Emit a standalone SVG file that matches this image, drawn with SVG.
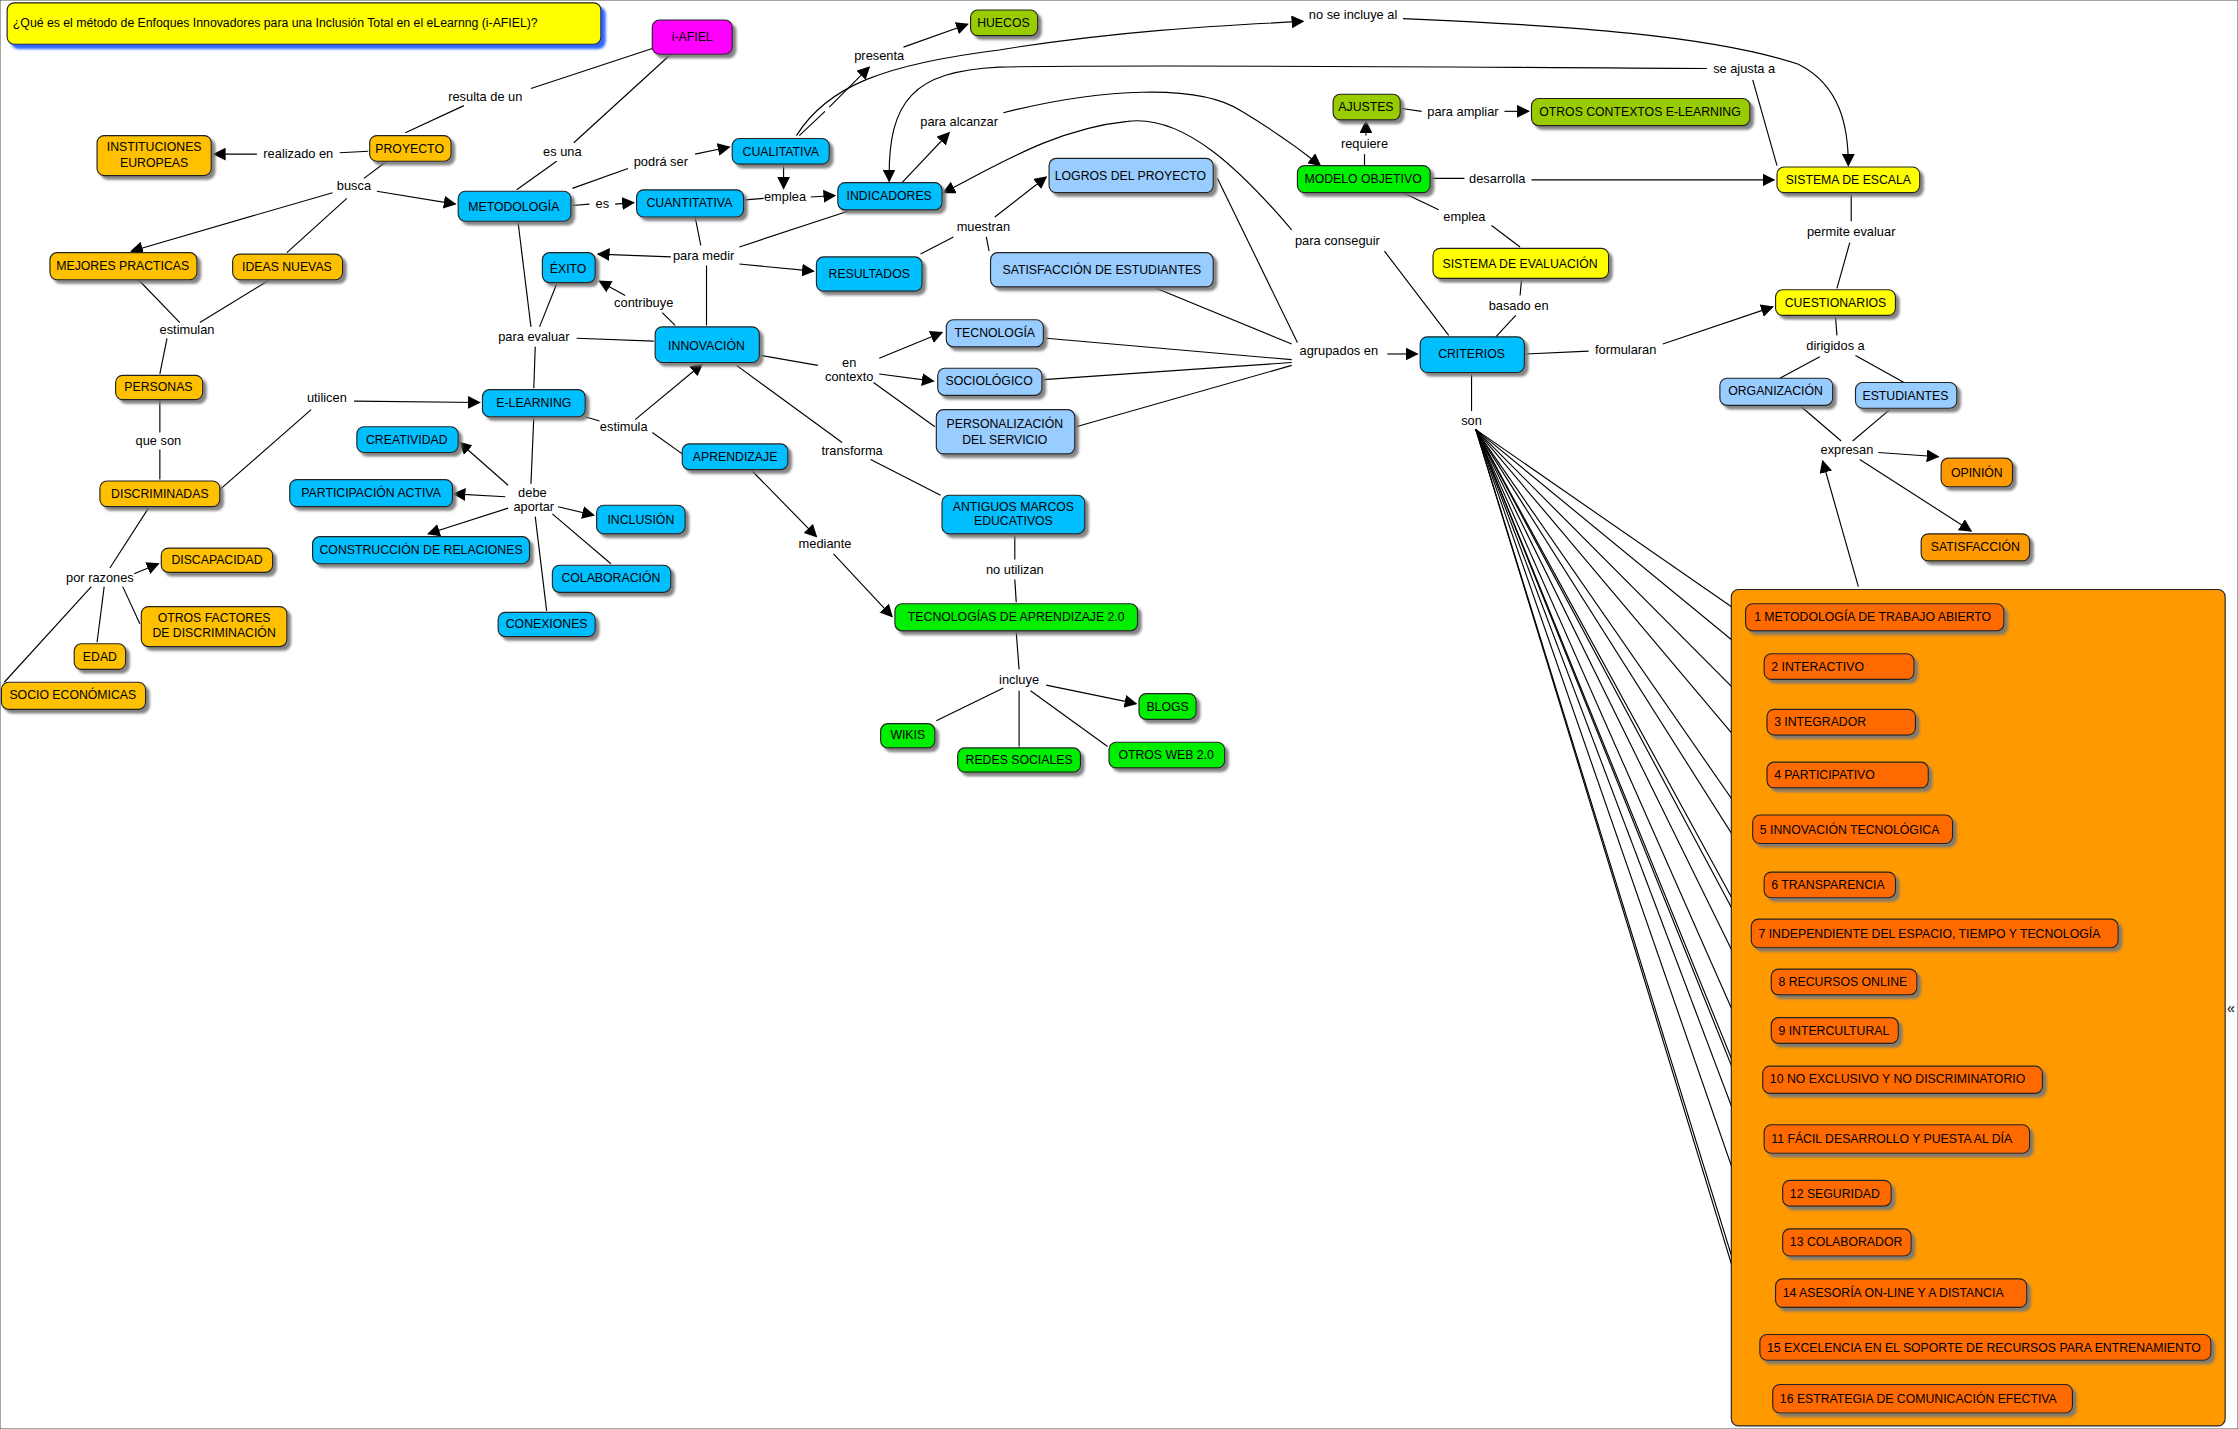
<svg xmlns="http://www.w3.org/2000/svg" width="2238" height="1429" viewBox="0 0 2238 1429">
<defs>
<filter id="sh" x="-10%" y="-20%" width="130%" height="160%"><feDropShadow dx="2.5" dy="2.5" stdDeviation="0.6" flood-color="#777" flood-opacity="0.9"/></filter>
<filter id="shb" x="-5%" y="-20%" width="110%" height="160%"><feDropShadow dx="3" dy="3" stdDeviation="0.6" flood-color="#3366FF" flood-opacity="1"/></filter>
<marker id="ar" viewBox="0 0 10 10" refX="9" refY="5" markerWidth="9" markerHeight="9" markerUnits="userSpaceOnUse" orient="auto"><path d="M0,0 L10,5 L0,10 z" fill="#000"/></marker>
<style>
rect{stroke:#222;stroke-width:0.8}
.or{fill:#FFC000}.cy{fill:#00BFFF}.lb{fill:#99CCFF}.gr{fill:#00EE00}.ol{fill:#99CC00}.ye{fill:#FFFF00}.og{fill:#FF9900}.rd{fill:#FF6A00}.mg{fill:#FF00FF}
text{font-family:"Liberation Sans",Arial,sans-serif;font-size:8.6px;fill:#000;text-anchor:middle}
.lk{font-size:9px}
.c path,.c line{stroke:#000;stroke-width:0.8;fill:none}
.a{marker-end:url(#ar)}
</style>
</defs>
<rect width="2238" height="1429" fill="#fff" stroke="none"/>
<g transform="scale(1.4273)">
<g class="c" id="connectors">
<line x1="457" y1="34" x2="372" y2="62"/><line x1="325" y1="74" x2="284" y2="93"/>
<line x1="470" y1="38" x2="402" y2="100"/><line x1="390" y1="113" x2="362" y2="133"/>
<line x1="258" y1="106" x2="238" y2="107"/><line class="a" x1="180" y1="108" x2="150" y2="108"/>
<line x1="271" y1="113" x2="255" y2="125"/><line class="a" x1="264" y1="134" x2="319" y2="143"/><line class="a" x1="233" y1="135" x2="92" y2="176"/><line x1="243" y1="139" x2="201" y2="177"/>
<line x1="97" y1="196" x2="126" y2="226"/><line x1="189" y1="196" x2="140" y2="226"/><line x1="117" y1="237" x2="112" y2="262"/>
<line x1="112" y1="280" x2="112" y2="303"/><line x1="112" y1="315" x2="112" y2="336"/>
<line x1="154" y1="343" x2="218" y2="287"/><line class="a" x1="248" y1="281" x2="336" y2="282"/>
<line x1="104" y1="356" x2="77" y2="398"/><line class="a" x1="94" y1="402" x2="111" y2="395"/><line x1="86" y1="411" x2="98" y2="437"/><line x1="73" y1="411" x2="68" y2="450"/><line x1="64" y1="411" x2="3" y2="478"/>
<line x1="401" y1="144" x2="413" y2="143"/><line class="a" x1="431" y1="143" x2="444" y2="142"/>
<line x1="401" y1="132" x2="440" y2="118"/><line class="a" x1="487" y1="108" x2="511" y2="103"/>
<line x1="363" y1="156" x2="372" y2="229"/><line x1="390" y1="199" x2="378" y2="229"/><line x1="458" y1="239" x2="404" y2="237"/><line x1="374" y1="272" x2="375" y2="243"/>
<line x1="522" y1="140" x2="535" y2="139"/><line class="a" x1="568" y1="138" x2="585" y2="137"/><line class="a" x1="549" y1="116" x2="549" y2="132"/>
<line x1="487" y1="152" x2="491" y2="172"/><line class="a" x1="470" y1="180" x2="419" y2="178"/><line class="a" x1="518" y1="185" x2="570" y2="190"/><line x1="594" y1="148" x2="518" y2="173"/><line x1="495" y1="186" x2="495" y2="228"/>
<line x1="473" y1="228" x2="464" y2="219"/><line class="a" x1="438" y1="207" x2="420" y2="197"/>
<line x1="560" y1="95" x2="578" y2="78"/><line class="a" x1="581" y1="75" x2="609" y2="47"/><line class="a" x1="633" y1="33" x2="678" y2="17"/>
<line class="a" x1="632" y1="128" x2="665" y2="93"/><path class="a" d="M703,79 C770,62 840,58 870,78 C890,90 910,104 925,116"/>
<line x1="645" y1="178" x2="668" y2="166"/><line class="a" x1="697" y1="152" x2="733" y2="124"/><line x1="691" y1="166" x2="693" y2="176"/>
<line x1="853" y1="125" x2="909" y2="240"/><line x1="810" y1="202" x2="905" y2="241"/><line x1="733" y1="237" x2="905" y2="252"/><line x1="731" y1="266" x2="905" y2="254"/><line x1="754" y1="299" x2="905" y2="256"/><line class="a" x1="972" y1="248" x2="993" y2="248"/>
<line x1="1015" y1="235" x2="970" y2="176"/><path class="a" d="M905,161 C870,120 830,80 790,85 C740,90 700,115 661,135"/>
<line x1="533" y1="249" x2="573" y2="256"/><line class="a" x1="616" y1="251" x2="660" y2="233"/><line class="a" x1="616" y1="262" x2="654" y2="267"/><line x1="612" y1="268" x2="655" y2="299"/>
<line x1="516" y1="256" x2="590" y2="310"/><line x1="610" y1="322" x2="659" y2="347"/>
<line x1="410" y1="292" x2="420" y2="295"/><line class="a" x1="445" y1="294" x2="492" y2="255"/><line x1="457" y1="303" x2="478" y2="318"/>
<line x1="374" y1="292" x2="372" y2="339"/><line class="a" x1="356" y1="340" x2="322" y2="310"/><line class="a" x1="354" y1="348" x2="318" y2="346"/><line class="a" x1="356" y1="356" x2="300" y2="374"/><line class="a" x1="391" y1="355" x2="416" y2="361"/><line x1="387" y1="360" x2="428" y2="395"/><line x1="375" y1="362" x2="383" y2="428"/>
<line class="a" x1="527" y1="330" x2="572" y2="376"/><line class="a" x1="584" y1="388" x2="625" y2="432"/>
<line x1="711" y1="375" x2="711" y2="392"/><line x1="711" y1="406" x2="712" y2="422"/>
<line x1="712" y1="443" x2="714" y2="469"/><line class="a" x1="733" y1="480" x2="796" y2="493"/><line x1="703" y1="482" x2="656" y2="505"/><line x1="714" y1="484" x2="714" y2="523"/><line x1="722" y1="484" x2="776" y2="523"/>
<line x1="956" y1="116" x2="956" y2="108"/><line class="a" x1="957" y1="95" x2="957" y2="85"/>
<line x1="982" y1="76" x2="996" y2="78"/><line class="a" x1="1054" y1="78" x2="1071" y2="78"/>
<line x1="1003" y1="125" x2="1026" y2="125"/><line class="a" x1="1073" y1="126" x2="1243" y2="126"/>
<line x1="983" y1="135" x2="1008" y2="147"/><line x1="1045" y1="158" x2="1065" y2="173"/>
<line x1="1066" y1="196" x2="1065" y2="207"/><line x1="1062" y1="221" x2="1048" y2="236"/>
<path class="a" d="M558,95 C580,60 620,45 700,35 C780,22 850,18 913,15"/><path class="a" d="M983,13 C1100,18 1200,25 1260,45 C1290,60 1295,90 1295,116"/>
<line x1="1245" y1="116" x2="1228" y2="56"/><path class="a" d="M1196,48 C1000,47 800,45 700,47 C640,50 622,70 623,127"/>
<line x1="1297" y1="136" x2="1297" y2="155"/><line x1="1296" y1="170" x2="1287" y2="202"/>
<line x1="1069" y1="248" x2="1113" y2="246"/><line class="a" x1="1165" y1="241" x2="1242" y2="215"/>
<line x1="1286" y1="222" x2="1287" y2="235"/><line x1="1275" y1="250" x2="1247" y2="265"/><line x1="1300" y1="249" x2="1334" y2="268"/>
<line x1="1262" y1="285" x2="1290" y2="309"/><line x1="1324" y1="287" x2="1298" y2="309"/><line class="a" x1="1316" y1="317" x2="1358" y2="320"/><line class="a" x1="1303" y1="322" x2="1381" y2="372"/><line class="a" x1="1302" y1="411" x2="1277" y2="323"/>
<line x1="1031" y1="262" x2="1031" y2="288"/>
<g>
<line x1="1034" y1="301" x2="1223" y2="432"/><line x1="1034" y1="301" x2="1236" y2="467"/><line x1="1034" y1="301" x2="1238" y2="506"/><line x1="1034" y1="301" x2="1238" y2="543"/><line x1="1034" y1="301" x2="1228" y2="581"/><line x1="1034" y1="301" x2="1236" y2="620"/><line x1="1034" y1="301" x2="1227" y2="654"/><line x1="1034" y1="301" x2="1241" y2="688"/><line x1="1034" y1="301" x2="1241" y2="722"/><line x1="1034" y1="301" x2="1235" y2="756"/><line x1="1034" y1="301" x2="1236" y2="798"/><line x1="1034" y1="301" x2="1249" y2="836"/><line x1="1034" y1="301" x2="1249" y2="870"/><line x1="1034" y1="301" x2="1244" y2="906"/><line x1="1034" y1="301" x2="1233" y2="944"/><line x1="1034" y1="301" x2="1242" y2="980"/>
</g>
</g>
<g id="links">
<text class="lk" x="340" y="71">resulta de un</text><text class="lk" x="394" y="109">es una</text><text class="lk" x="209" y="111">realizado en</text><text class="lk" x="248" y="133">busca</text>
<text class="lk" x="131" y="234">estimulan</text><text class="lk" x="111" y="312">que son</text><text class="lk" x="229" y="282">utilicen</text><text class="lk" x="70" y="408">por razones</text>
<text class="lk" x="422" y="146">es</text><text class="lk" x="463" y="116">podrá ser</text><text class="lk" x="374" y="239">para evaluar</text><text class="lk" x="550" y="141">emplea</text>
<text class="lk" x="493" y="182">para medir</text><text class="lk" x="451" y="215">contribuye</text><text class="lk" x="616" y="42">presenta</text><text class="lk" x="672" y="88">para alcanzar</text>
<text class="lk" x="689" y="162">muestran</text><text class="lk" x="938" y="249">agrupados en</text><text class="lk" x="937" y="172">para conseguir</text>
<text class="lk" x="595" y="257">en</text><text class="lk" x="595" y="267">contexto</text><text class="lk" x="597" y="319">transforma</text><text class="lk" x="437" y="302">estimula</text>
<text class="lk" x="373" y="348">debe</text><text class="lk" x="374" y="358">aportar</text><text class="lk" x="578" y="384">mediante</text><text class="lk" x="711" y="402">no utilizan</text><text class="lk" x="714" y="479">incluye</text>
<text class="lk" x="956" y="104">requiere</text><text class="lk" x="1025" y="81">para ampliar</text><text class="lk" x="1049" y="128">desarrolla</text><text class="lk" x="1026" y="155">emplea</text><text class="lk" x="1064" y="217">basado en</text>
<text class="lk" x="948" y="13">no se incluye al</text><text class="lk" x="1222" y="51">se ajusta a</text><text class="lk" x="1297" y="165">permite evaluar</text><text class="lk" x="1139" y="248">formularan</text>
<text class="lk" x="1286" y="245">dirigidos a</text><text class="lk" x="1294" y="318">expresan</text><text class="lk" x="1031" y="298">son</text>
</g>
<g id="title"><rect class="ye" x="5" y="2" width="416" height="29" rx="5" filter="url(#shb)"/><text x="9" y="19" style="text-anchor:start">¿Qué es el método de Enfoques Innovadores para una Inclusión Total en el eLearnng (i-AFIEL)?</text></g>
<g id="n-iafiel"><rect class="mg" x="457" y="14" width="56" height="24" rx="5" filter="url(#sh)"/><text x="485" y="29">i-AFIEL</text></g>
<g id="n-proyecto"><rect class="or" x="259" y="95" width="57" height="18" rx="5" filter="url(#sh)"/><text x="287" y="107">PROYECTO</text></g>
<g id="n-instituciones"><rect class="or" x="68" y="95" width="80" height="28" rx="5" filter="url(#sh)"/><text x="108" y="106">INSTITUCIONES</text><text x="108" y="117">EUROPEAS</text></g>
<g id="n-metodologia"><rect class="cy" x="321" y="134" width="79" height="21" rx="5" filter="url(#sh)"/><text x="360" y="148">METODOLOGÍA</text></g>
<g id="n-cuantitativa"><rect class="cy" x="446" y="133" width="75" height="19" rx="5" filter="url(#sh)"/><text x="483" y="145">CUANTITATIVA</text></g>
<g id="n-cualitativa"><rect class="cy" x="513" y="97" width="68" height="18" rx="5" filter="url(#sh)"/><text x="547" y="109">CUALITATIVA</text></g>
<g id="n-indicadores"><rect class="cy" x="587" y="128" width="73" height="19" rx="5" filter="url(#sh)"/><text x="623" y="140">INDICADORES</text></g>
<g id="n-mejores"><rect class="or" x="35" y="177" width="103" height="19" rx="5" filter="url(#sh)"/><text x="86" y="189">MEJORES PRACTICAS</text></g>
<g id="n-ideas"><rect class="or" x="163" y="178" width="77" height="18" rx="5" filter="url(#sh)"/><text x="201" y="190">IDEAS NUEVAS</text></g>
<g id="n-personas"><rect class="or" x="81" y="263" width="61" height="17" rx="5" filter="url(#sh)"/><text x="111" y="274">PERSONAS</text></g>
<g id="n-discriminadas"><rect class="or" x="70" y="337" width="84" height="18" rx="5" filter="url(#sh)"/><text x="112" y="349">DISCRIMINADAS</text></g>
<g id="n-discapacidad"><rect class="or" x="113" y="384" width="78" height="17" rx="5" filter="url(#sh)"/><text x="152" y="395">DISCAPACIDAD</text></g>
<g id="n-otrosfactores"><rect class="or" x="99" y="425" width="102" height="28" rx="5" filter="url(#sh)"/><text x="150" y="436">OTROS FACTORES</text><text x="150" y="446">DE DISCRIMINACIÓN</text></g>
<g id="n-edad"><rect class="or" x="52" y="451" width="36" height="18" rx="5" filter="url(#sh)"/><text x="70" y="463">EDAD</text></g>
<g id="n-socio"><rect class="or" x="1" y="478" width="101" height="19" rx="5" filter="url(#sh)"/><text x="51" y="490">SOCIO ECONÓMICAS</text></g>
<g id="n-exito"><rect class="cy" x="380" y="177" width="37" height="21" rx="5" filter="url(#sh)"/><text x="398" y="191">ÉXITO</text></g>
<g id="n-resultados"><rect class="cy" x="572" y="180" width="74" height="24" rx="5" filter="url(#sh)"/><text x="609" y="195">RESULTADOS</text></g>
<g id="n-innovacion"><rect class="cy" x="459" y="229" width="73" height="25" rx="5" filter="url(#sh)"/><text x="495" y="245">INNOVACIÓN</text></g>
<g id="n-elearning"><rect class="cy" x="338" y="273" width="72" height="19" rx="5" filter="url(#sh)"/><text x="374" y="285">E-LEARNING</text></g>
<g id="n-creatividad"><rect class="cy" x="250" y="299" width="71" height="18" rx="5" filter="url(#sh)"/><text x="285" y="311">CREATIVIDAD</text></g>
<g id="n-participacion"><rect class="cy" x="203" y="336" width="114" height="19" rx="5" filter="url(#sh)"/><text x="260" y="348">PARTICIPACIÓN ACTIVA</text></g>
<g id="n-inclusion"><rect class="cy" x="418" y="354" width="62" height="20" rx="5" filter="url(#sh)"/><text x="449" y="367">INCLUSIÓN</text></g>
<g id="n-construccion"><rect class="cy" x="219" y="376" width="152" height="19" rx="5" filter="url(#sh)"/><text x="295" y="388">CONSTRUCCIÓN DE RELACIONES</text></g>
<g id="n-colaboracion"><rect class="cy" x="387" y="396" width="83" height="19" rx="5" filter="url(#sh)"/><text x="428" y="408">COLABORACIÓN</text></g>
<g id="n-conexiones"><rect class="cy" x="349" y="429" width="68" height="17" rx="5" filter="url(#sh)"/><text x="383" y="440">CONEXIONES</text></g>
<g id="n-aprendizaje"><rect class="cy" x="478" y="311" width="74" height="18" rx="5" filter="url(#sh)"/><text x="515" y="323">APRENDIZAJE</text></g>
<g id="n-logros"><rect class="lb" x="735" y="111" width="115" height="24" rx="5" filter="url(#sh)"/><text x="792" y="126">LOGROS DEL PROYECTO</text></g>
<g id="n-satisfaccionest"><rect class="lb" x="694" y="177" width="156" height="24" rx="5" filter="url(#sh)"/><text x="772" y="192">SATISFACCIÓN DE ESTUDIANTES</text></g>
<g id="n-tecnologia"><rect class="lb" x="663" y="224" width="68" height="19" rx="5" filter="url(#sh)"/><text x="697" y="236">TECNOLOGÍA</text></g>
<g id="n-sociologico"><rect class="lb" x="657" y="258" width="73" height="19" rx="5" filter="url(#sh)"/><text x="693" y="270">SOCIOLÓGICO</text></g>
<g id="n-personalizacion"><rect class="lb" x="656" y="287" width="97" height="31" rx="5" filter="url(#sh)"/><text x="704" y="300">PERSONALIZACIÓN</text><text x="704" y="311">DEL SERVICIO</text></g>
<g id="n-antiguos"><rect class="cy" x="660" y="347" width="100" height="27" rx="5" filter="url(#sh)"/><text x="710" y="358">ANTIGUOS MARCOS</text><text x="710" y="368">EDUCATIVOS</text></g>
<g id="n-tec20"><rect class="gr" x="627" y="423" width="170" height="19" rx="5" filter="url(#sh)"/><text x="712" y="435">TECNOLOGÍAS DE APRENDIZAJE 2.0</text></g>
<g id="n-blogs"><rect class="gr" x="798" y="486" width="40" height="18" rx="5" filter="url(#sh)"/><text x="818" y="498">BLOGS</text></g>
<g id="n-wikis"><rect class="gr" x="617" y="507" width="38" height="17" rx="5" filter="url(#sh)"/><text x="636" y="518">WIKIS</text></g>
<g id="n-redes"><rect class="gr" x="671" y="524" width="86" height="17" rx="5" filter="url(#sh)"/><text x="714" y="535">REDES SOCIALES</text></g>
<g id="n-otrosweb"><rect class="gr" x="777" y="520" width="81" height="18" rx="5" filter="url(#sh)"/><text x="817" y="532">OTROS WEB 2.0</text></g>
<g id="n-huecos"><rect class="ol" x="680" y="7" width="47" height="18" rx="5" filter="url(#sh)"/><text x="703" y="19">HUECOS</text></g>
<g id="n-ajustes"><rect class="ol" x="934" y="66" width="47" height="18" rx="5" filter="url(#sh)"/><text x="957" y="78">AJUSTES</text></g>
<g id="n-otroscontextos"><rect class="ol" x="1073" y="69" width="153" height="19" rx="5" filter="url(#sh)"/><text x="1149" y="81">OTROS CONTEXTOS E-LEARNING</text></g>
<g id="n-modelo"><rect class="gr" x="909" y="116" width="93" height="19" rx="5" filter="url(#sh)"/><text x="955" y="128">MODELO OBJETIVO</text></g>
<g id="n-escala"><rect class="ye" x="1245" y="117" width="100" height="18" rx="5" filter="url(#sh)"/><text x="1295" y="129">SISTEMA DE ESCALA</text></g>
<g id="n-evaluacion"><rect class="ye" x="1004" y="174" width="123" height="21" rx="5" filter="url(#sh)"/><text x="1065" y="188">SISTEMA DE EVALUACIÓN</text></g>
<g id="n-criterios"><rect class="cy" x="995" y="236" width="73" height="25" rx="5" filter="url(#sh)"/><text x="1031" y="251">CRITERIOS</text></g>
<g id="n-cuestionarios"><rect class="ye" x="1244" y="203" width="84" height="18" rx="5" filter="url(#sh)"/><text x="1286" y="215">CUESTIONARIOS</text></g>
<g id="n-organizacion"><rect class="lb" x="1205" y="265" width="79" height="19" rx="5" filter="url(#sh)"/><text x="1244" y="277">ORGANIZACIÓN</text></g>
<g id="n-estudiantes"><rect class="lb" x="1300" y="268" width="71" height="18" rx="5" filter="url(#sh)"/><text x="1335" y="280">ESTUDIANTES</text></g>
<g id="n-opinion"><rect class="og" x="1360" y="321" width="50" height="20" rx="5" filter="url(#sh)"/><text x="1385" y="334">OPINIÓN</text></g>
<g id="n-satisfaccion"><rect class="og" x="1346" y="374" width="76" height="19" rx="5" filter="url(#sh)"/><text x="1384" y="386">SATISFACCIÓN</text></g>
<g id="n-container"><rect class="og" x="1213" y="413" width="346" height="586" rx="5"/><text x="1563" y="710" style="font-size:10px">«</text></g>
<g id="n-c1"><rect class="rd" x="1223" y="423" width="181" height="19" rx="5" filter="url(#sh)"/><text x="1229" y="435" style="text-anchor:start">1 METODOLOGÍA DE TRABAJO ABIERTO</text></g>
<g id="n-c2"><rect class="rd" x="1236" y="458" width="105" height="18" rx="5" filter="url(#sh)"/><text x="1241" y="470" style="text-anchor:start">2 INTERACTIVO</text></g>
<g id="n-c3"><rect class="rd" x="1238" y="497" width="104" height="18" rx="5" filter="url(#sh)"/><text x="1243" y="509" style="text-anchor:start">3 INTEGRADOR</text></g>
<g id="n-c4"><rect class="rd" x="1238" y="534" width="113" height="18" rx="5" filter="url(#sh)"/><text x="1243" y="546" style="text-anchor:start">4 PARTICIPATIVO</text></g>
<g id="n-c5"><rect class="rd" x="1228" y="571" width="140" height="20" rx="5" filter="url(#sh)"/><text x="1233" y="584" style="text-anchor:start">5 INNOVACIÓN TECNOLÓGICA</text></g>
<g id="n-c6"><rect class="rd" x="1236" y="611" width="92" height="18" rx="5" filter="url(#sh)"/><text x="1241" y="623" style="text-anchor:start">6 TRANSPARENCIA</text></g>
<g id="n-c7"><rect class="rd" x="1227" y="644" width="257" height="20" rx="5" filter="url(#sh)"/><text x="1232" y="657" style="text-anchor:start">7 INDEPENDIENTE DEL ESPACIO, TIEMPO Y TECNOLOGÍA</text></g>
<g id="n-c8"><rect class="rd" x="1241" y="679" width="102" height="18" rx="5" filter="url(#sh)"/><text x="1246" y="691" style="text-anchor:start">8 RECURSOS ONLINE</text></g>
<g id="n-c9"><rect class="rd" x="1241" y="713" width="89" height="18" rx="5" filter="url(#sh)"/><text x="1246" y="725" style="text-anchor:start">9 INTERCULTURAL</text></g>
<g id="n-c10"><rect class="rd" x="1235" y="747" width="196" height="19" rx="5" filter="url(#sh)"/><text x="1240" y="759" style="text-anchor:start">10 NO EXCLUSIVO Y NO DISCRIMINATORIO</text></g>
<g id="n-c11"><rect class="rd" x="1236" y="788" width="186" height="20" rx="5" filter="url(#sh)"/><text x="1241" y="801" style="text-anchor:start">11 FÁCIL DESARROLLO Y PUESTA AL DÍA</text></g>
<g id="n-c12"><rect class="rd" x="1249" y="827" width="76" height="18" rx="5" filter="url(#sh)"/><text x="1254" y="839" style="text-anchor:start">12 SEGURIDAD</text></g>
<g id="n-c13"><rect class="rd" x="1249" y="861" width="90" height="19" rx="5" filter="url(#sh)"/><text x="1254" y="873" style="text-anchor:start">13 COLABORADOR</text></g>
<g id="n-c14"><rect class="rd" x="1244" y="896" width="176" height="20" rx="5" filter="url(#sh)"/><text x="1249" y="909" style="text-anchor:start">14 ASESORÍA ON-LINE Y A DISTANCIA</text></g>
<g id="n-c15"><rect class="rd" x="1233" y="935" width="316" height="18" rx="5" filter="url(#sh)"/><text x="1238" y="947" style="text-anchor:start">15 EXCELENCIA EN EL SOPORTE DE RECURSOS PARA ENTRENAMIENTO</text></g>
<g id="n-c16"><rect class="rd" x="1242" y="970" width="210" height="20" rx="5" filter="url(#sh)"/><text x="1247" y="983" style="text-anchor:start">16 ESTRATEGIA DE COMUNICACIÓN EFECTIVA</text></g>
</g>
</svg>
